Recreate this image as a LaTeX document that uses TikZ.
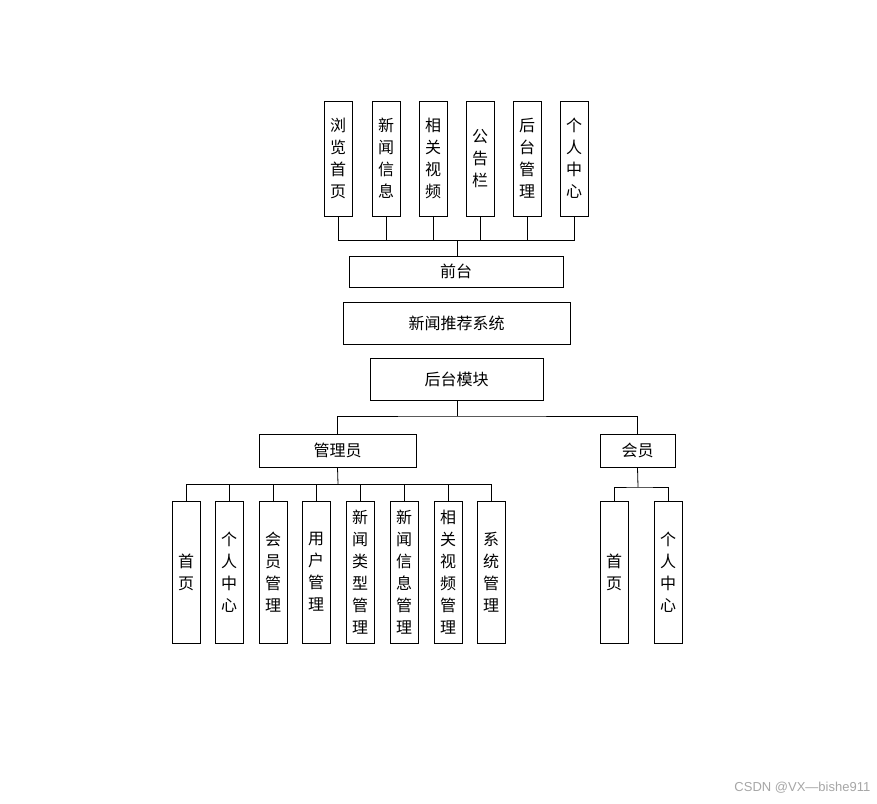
\documentclass[tikz,border=0pt]{standalone}
\usepackage{fontspec}
\setmainfont{Noto Sans CJK SC}
\begin{document}
\begin{tikzpicture}[x=1pt,y=-1pt,line width=0.8pt,
  bx/.style={draw,fill=white,inner sep=0pt,font=\fontsize{16}{22}\selectfont,align=center},
  vb/.style={bx,minimum width=28pt},
  ln/.style={draw}]
\useasboundingbox (0,0) rectangle (877,803);
% top
\foreach \n/\x/\t in {t1/338/浏\\览\\首\\页, t2/386/新\\闻\\信\\息, t3/433/相\\关\\视\\频, t4/480/公\\告\\栏, t5/527/后\\台\\管\\理, t6/574/个\\人\\中\\心}
  \node[vb,minimum height=115pt] (\n) at (\x,158.5) {\t};
\node[bx,minimum width=214pt,minimum height=31pt] (qt) at (456,271.5) {前台};
\node[bx,minimum width=227pt,minimum height=42pt] (sys) at (456.5,323) {新闻推荐系统};
\node[bx,minimum width=173pt,minimum height=42pt] (ht) at (456.5,379) {后台模块};
\node[bx,minimum width=157pt,minimum height=33pt] (gly) at (337.5,450.5) {管理员};
\node[bx,minimum width=75pt,minimum height=33pt] (hy) at (637.5,450.5) {会员};
\foreach \n/\x/\t in {b1/186/首\\页, b2/229/个\\人\\中\\心, b3/273/会\\员\\管\\理, b4/316/用\\户\\管\\理, b5/360/新\\闻\\类\\型\\管\\理, b6/404/新\\闻\\信\\息\\管\\理, b7/448/相\\关\\视\\频\\管\\理, b8/491/系\\统\\管\\理, c1/614/首\\页, c2/668/个\\人\\中\\心}
  \node[vb,minimum height=142pt] (\n) at (\x,572) {\t};
% connectors
\coordinate (tbus) at (457,240);
\foreach \n in {t1,t2,t3,t4,t5,t6} \draw (\n.south) |- (tbus);
\draw (t1.south |- tbus) -- (t6.south |- tbus);
\draw (tbus) -- (qt.north -| tbus);
\coordinate (mbus) at (457,416);
\draw (ht.south -| mbus) -- (mbus);
\draw (gly.north) |- (mbus) -| (hy.north);
\coordinate (gbus) at (338,484);
\draw (gly.south) -- (gbus);
\foreach \n in {b1,b2,b3,b4,b5,b6,b7,b8} \draw (\n.north) -- (\n.north |- gbus);
\draw (b1.north |- gbus) -- (b8.north |- gbus);
\coordinate (hbus) at (638,487);
\draw (hy.south) -- (hbus);
\draw (c1.north) |- (hbus) -| (c2.north);
\node[font=\fontsize{13}{15}\selectfont\fontspec{Liberation Sans},text=gray!70,anchor=east] (wm) at (874,788) {CSDN @VX—bishe911};
\end{tikzpicture}
\end{document}
